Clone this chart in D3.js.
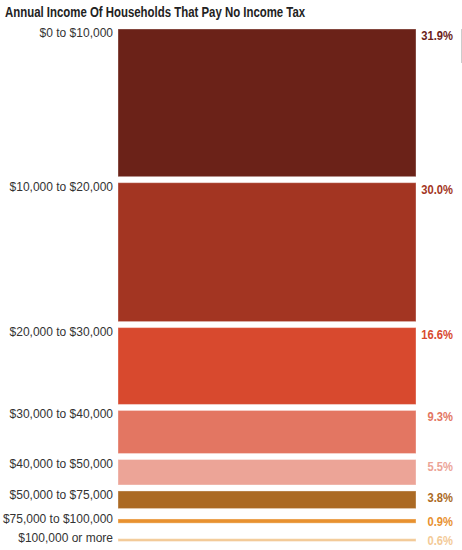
<!DOCTYPE html>
<html>
<head>
<meta charset="utf-8">
<script src="https://cdn.jsdelivr.net/npm/d3@7"></script>
<style>
  body { margin: 0; background: #fff; }
  svg { display: block; }
</style>
</head>
<body>
<svg id="chart" width="462" height="550"></svg>
<script>
// income brackets, top to bottom
var categories = ["$0 to $10,000", "$10,000 to $20,000", "$20,000 to $30,000", "$30,000 to $40,000",
  "$40,000 to $50,000", "$50,000 to $75,000", "$75,000 to $100,000", "$100,000 or more"];
// share of non-paying households, percent
var values = [31.9, 30.0, 16.6, 9.3, 5.5, 3.8, 0.9, 0.6];
var valueLabels = ["31.9%", "30.0%", "16.6%", "9.3%", "5.5%", "3.8%", "0.9%", "0.6%"];
var colors = ["#6b2218", "#a33522", "#d8492e", "#e37662", "#eca497", "#ab6a24", "#e8912f", "#f3ca97"];

var svg = d3.select("#chart");
var sans = "'Liberation Sans', Arial, Helvetica, sans-serif";

// no condensed face installed, so squeeze the bold text horizontally
svg.append("text")
  .attr("transform", "translate(5,17) scale(0.815,1)")
  .attr("font-family", sans)
  .attr("font-weight", "bold")
  .attr("font-size", 14)
  .attr("fill", "#222")
  .text("Annual Income Of Households That Pay No Income Tax");

var margin = {top: 29, left: 118},
    barWidth = 298,
    gap = 6,
    minRow = 13;

// bar height is proportional to the share
var h = d3.scaleLinear().domain([0, 100]).range([0, 463]);

var x = d3.scaleLinear().domain([0, 1]).range([margin.left, margin.left + barWidth]);

// rows: tall enough for the bar, never less than a text line
var rows = [];
var rowY = margin.top;
values.forEach(function(v, i) {
  var bh = h(v);
  var rh = Math.max(bh, minRow);
  rows.push({cat: categories[i], v: v, label: valueLabels[i], color: colors[i],
    top: rowY, barY: rowY + (rh - bh) / 2, barH: bh});
  rowY += rh + gap;
});

var g = svg.selectAll("g.row")
  .data(rows)
  .enter().append("g")
  .attr("class", "row");

g.append("rect")
  .attr("x", x(0))
  .attr("y", function(d) { return d.barY; })
  .attr("width", x(1) - x(0))
  .attr("height", function(d) { return d.barH; })
  .attr("fill", function(d) { return d.color; })
  .attr("stroke", "rgba(255,255,255,0.35)")
  .attr("stroke-width", 1);

g.append("text")
  .attr("x", 113)
  .attr("y", function(d) { return d.top + 8; })
  .attr("text-anchor", "end")
  .attr("font-family", sans)
  .attr("font-size", 12)
  .attr("fill", "#333")
  .text(function(d) { return d.cat; });

g.append("text")
  .attr("transform", function(d) { return "translate(453," + (d.top + 11) + ") scale(0.86,1)"; })
  .attr("text-anchor", "end")
  .attr("font-family", sans)
  .attr("font-weight", "bold")
  .attr("font-size", 13)
  .attr("fill", function(d) { return d.color; })
  .text(function(d) { return d.label; });

// thin grey edge on the right, as in the original crop
svg.append("line")
  .attr("x1", 461.5).attr("x2", 461.5)
  .attr("y1", 29).attr("y2", 63)
  .attr("stroke", "#ccc")
  .attr("stroke-width", 1);
</script>
</body>
</html>
